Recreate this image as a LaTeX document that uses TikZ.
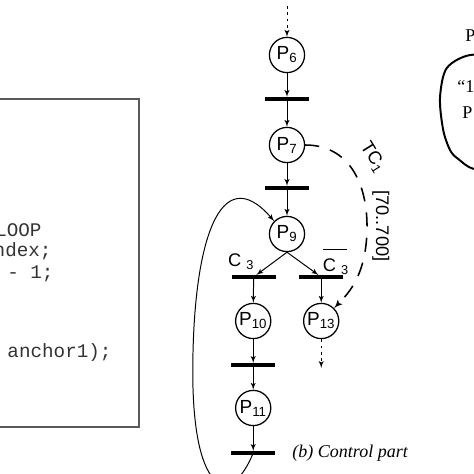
\documentclass[tikz,border=0pt]{standalone}
\usepackage{fontspec}
\setmainfont{Liberation Serif}
\setsansfont{Liberation Sans}
\setmonofont{Liberation Mono}
\usetikzlibrary{arrows}

\begin{document}
\begin{tikzpicture}[>=latex',line width=.7pt,
	place/.style={draw,circle,line width=.9pt,minimum size=.88cm,inner sep=0pt,font=\sffamily\fontsize{13.5}{15}\selectfont},
	trans/.style={fill,minimum width=1.1cm,minimum height=2.2pt,inner sep=0pt},
	lbl/.style={font=\sffamily\fontsize{13}{15}\selectfont,inner sep=0pt},
	code/.style={font=\ttfamily\fontsize{13.7}{16}\selectfont,text=black!80,inner sep=0pt,anchor=base east},
	blob/.style={font=\fontsize{12.8}{15}\selectfont,inner sep=0pt,anchor=west}]
			\useasboundingbox (0,0) rectangle (11.85,11.85);
			\clip (0,0) rectangle (11.85,11.85);
			% code box (cut at the left)
			\draw[draw=black!65,line width=1pt] (-1,9.375) -- (3.475,9.375) -- (3.475,1.175) -- (-1,1.175);
			\node[code] (loop) at (1.05,5.925) {LOOP};
			\node[code] (index) at (1.3,5.425) {ndex;};
			\node[code] (minus) at (1.35,4.9) {- 1;};
			\node[code] (anchor) at (2.8,2.9) {anchor1);};

			% net
			\node[place] (p6) at (7.175,10.475) {P\textsubscript{6}};
			\node[trans] (t1) at (7.175,9.375) {};
			\node[place] (p7) at (7.175,8.225) {P\textsubscript{7}};
			\node[trans] (t2) at (7.175,7.15) {};
			\node[place] (p9) at (7.175,6.0) {P\textsubscript{9}};
			\node[trans] (tl) at (6.34,4.925) {};
			\node[trans] (tr) at (8.03,4.925) {};
			\node[place] (p10) at (6.33,3.825) {P\textsubscript{10}};
			\node[place] (p13) at (8.03,3.825) {P\textsubscript{13}};
			\node[trans] (t4) at (6.33,2.725) {};
			\node[place] (p11) at (6.33,1.65) {P\textsubscript{11}};
			\node[trans] (t5) at (6.33,.525) {};
			\coordinate (in) at (7.175,11.7);
			\coordinate (out) at (8.03,2.65);

			\draw[->,dash pattern=on 2pt off 2.5pt] (in) -- (p6);
			\draw[->] (p6) -- (t1);
			\draw[->] (t1) -- (p7);
			\draw[->] (p7) -- (t2);
			\draw[->] (t2) -- (p9);
			\draw[->] (p9.south) -- (tl);
			\draw[->] (p9.south) -- (tr);
			\draw[->] (tl) -- (p10);
			\draw[->] (tr) -- (p13);
			\draw[->] (p10) -- (t4);
			\draw[->] (t4) -- (p11);
			\draw[->] (p11) -- (t5);
			\draw[->,dash pattern=on 2pt off 2.5pt] (p13) -- (out);
			\node[lbl] (c3) at (6.03,5.3) {C\ \textsubscript{3}};
			\node[lbl] (nc3) at (8.4,5.3) {\makebox[0pt][l]{\rule[1.2em]{1.3em}{.5pt}}C\ \textsubscript{3}};

			% loop back to P9
			\draw[->] (t5.center) .. controls (5.8,-.8) and (4.85,-.6) .. (4.82,2.4)
				.. controls (4.8,5.8) and (5.5,7.9) .. (p9.north west);

			% time constraint
			\draw[->,line width=1.1pt,dash pattern=on 10pt off 8pt] (p7.east) .. controls (8.7,8.225) and (9.2,7.3) .. (9.175,6.1)
				.. controls (9.15,5) and (8.75,4.55) .. (p13.north east);
			\node[lbl,rotate=-58] (tc) at (9.32,7.92) {TC\textsubscript{1}};
			\node[lbl,rotate=-90] (range) at (9.52,6.2) {[70..700]};

			\node[anchor=west,inner sep=0pt,font=\itshape\fontsize{12.8}{15}\selectfont] (cap) at (7.3,.525) {(b) Control part};

			% right blob
			\draw[line width=1.4pt] plot[smooth cycle] coordinates {(11.8,10.48) (11.17,10.15) (11.0,9.4) (11.08,8.6) (11.25,8.1) (11.45,7.88) (11.9,7.62) (12.8,7.8) (13.2,9.0) (12.8,10.3)};
			\node[blob] (pr) at (11.625,10.95) {P};
			\node[blob] (q1) at (11.425,9.675) {“1};
			\node[blob] (pp) at (11.55,9.025) {P};
		\end{tikzpicture}
\end{document}
